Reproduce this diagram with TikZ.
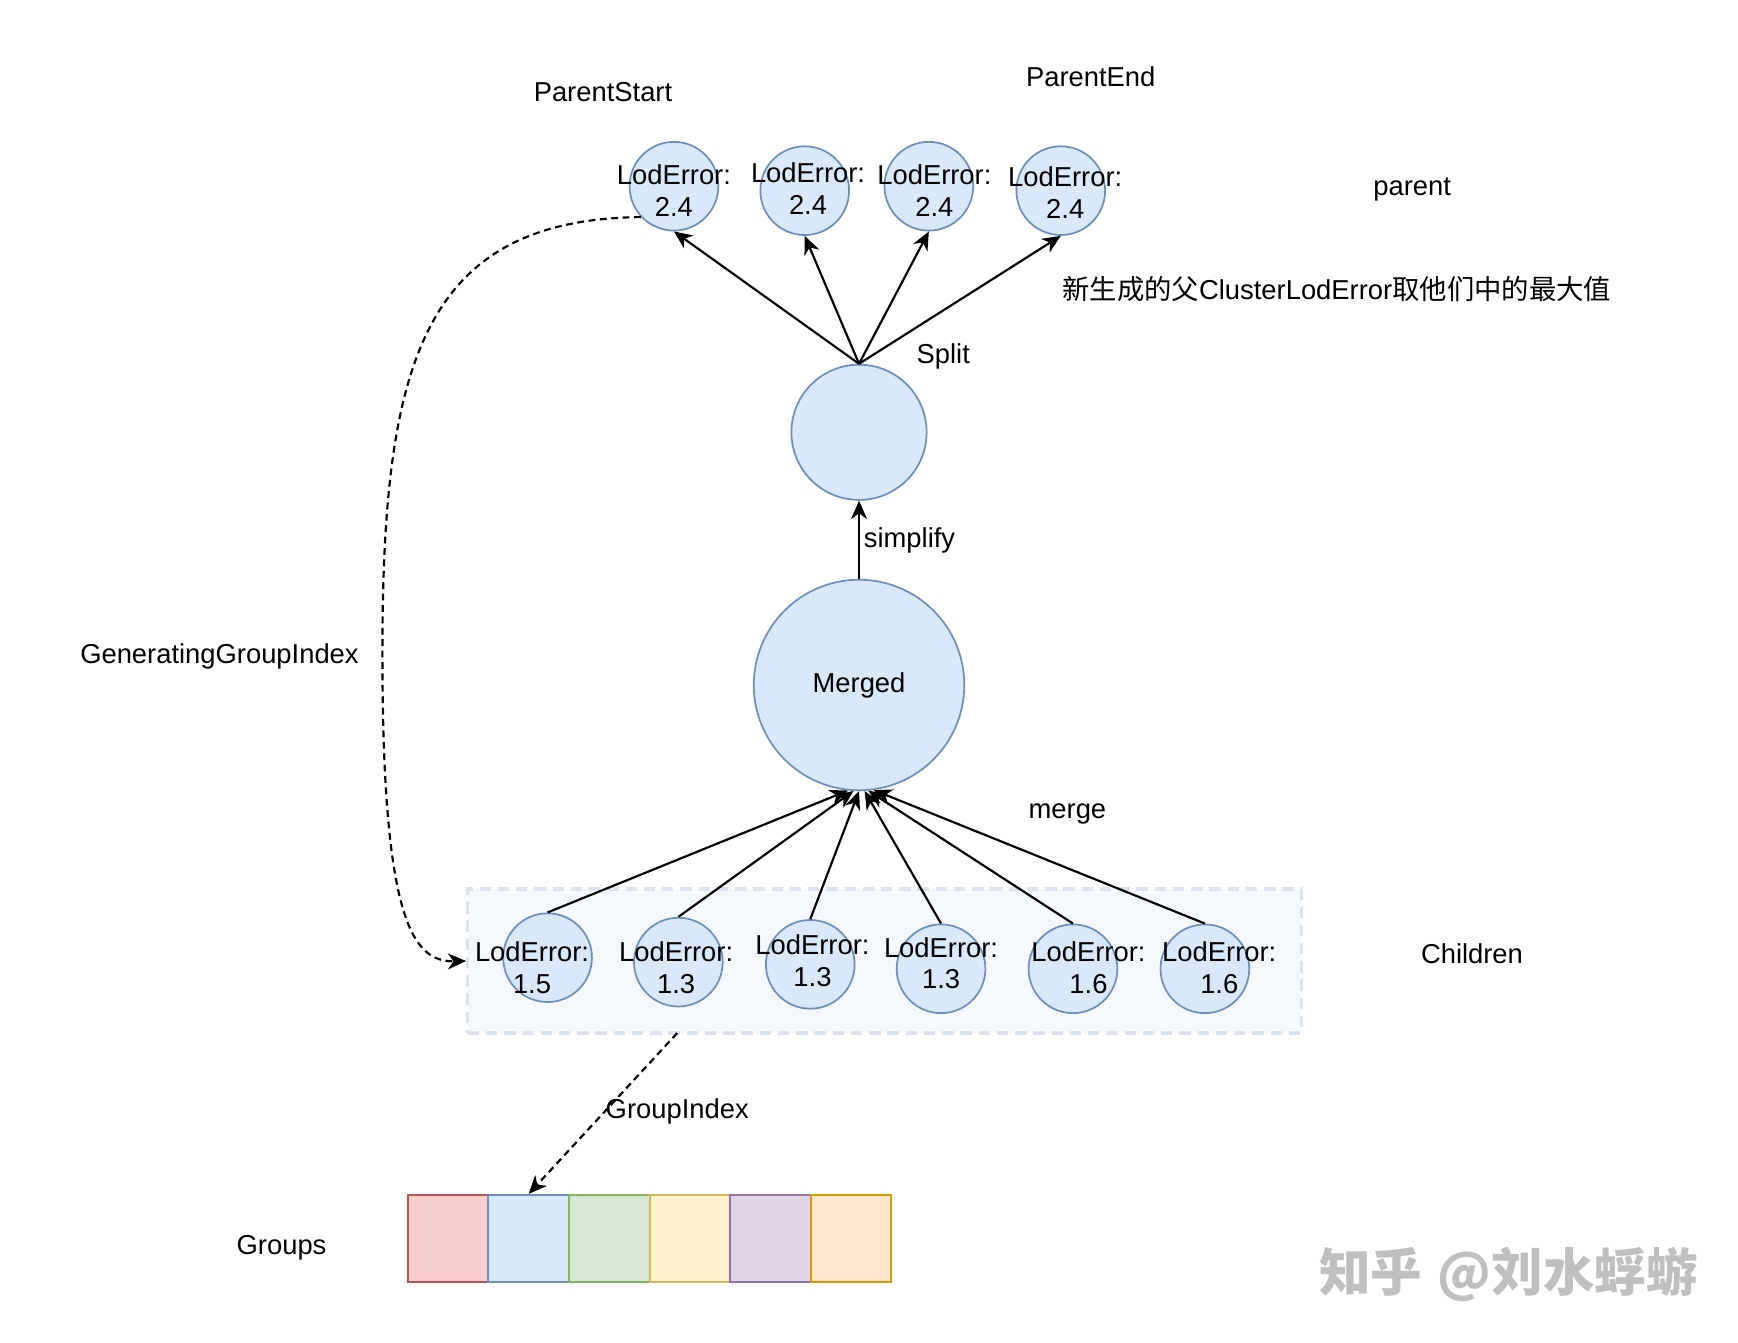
\documentclass[tikz,border=0pt]{standalone}
\usepackage{fontspec}
\setmainfont{Liberation Sans}
\newfontfamily\cjk{Noto Sans CJK SC}
\usetikzlibrary{arrows.meta}
\definecolor{nodefill}{HTML}{DAE8FC}
\definecolor{nodeline}{HTML}{6C8EBF}
\definecolor{boxfill}{HTML}{F5F8FD}
\definecolor{boxline}{HTML}{DCE3EE}
\definecolor{fillred}{HTML}{F8CECC}
\definecolor{linered}{HTML}{B85450}
\definecolor{fillblue}{HTML}{DAE8FC}
\definecolor{lineblue}{HTML}{6C8EBF}
\definecolor{fillgreen}{HTML}{D5E8D4}
\definecolor{linegreen}{HTML}{82B366}
\definecolor{fillyellow}{HTML}{FFF2CC}
\definecolor{lineyellow}{HTML}{D6B656}
\definecolor{fillpurple}{HTML}{E1D5E7}
\definecolor{linepurple}{HTML}{9673A6}
\definecolor{fillorange}{HTML}{FFE6CC}
\definecolor{lineorange}{HTML}{D79B00}
\begin{document}
\begin{tikzpicture}[x=0.486pt,y=-0.486pt,
  txt/.style={font=\fontsize{12}{14}\selectfont,align=center,inner sep=0pt},
  ball/.style={circle,draw=nodeline,fill=nodefill,line width=0.75pt,inner sep=0pt,minimum size=#1},
  ball/.default=38.9pt,
  edge/.style={-{Stealth[length=8pt,width=7pt,inset=2.5pt]},line width=0.95pt},
  dashedge/.style={edge,dash pattern=on 3pt off 2pt},
  groupbox/.style={draw=boxline,fill=boxfill,line width=1.4pt,dash pattern=on 5pt off 3pt,minimum width=365.5pt,minimum height=63.2pt,inner sep=0pt},
  cell/.style={line width=0.9pt,minimum width=35.3pt,minimum height=38.4pt,inner sep=0pt}]
\useasboundingbox (0,0) rectangle (1568,1211);
\node[groupbox] (box) at (798,867) {};
\node[ball] (p1) at (608,168) {};
\node[ball] (p2) at (726,172) {};
\node[ball] (p3) at (838,168) {};
\node[ball] (p4) at (957,172) {};
\node[txt] (pt1) at (608,172) {LodError:\\2.4};
\node[txt] (pt2) at (729,170) {LodError:\\2.4};
\node[txt] (pt3) at (843,172) {LodError:\\2.4};
\node[txt] (pt4) at (961,174) {LodError:\\2.4};
\node[ball=59.3pt] (split) at (775,390) {};
\node[ball=92.3pt] (merged) at (775,618) {};
\node[txt] (mt) at (775,618) {Merged};
\node[ball] (c1) at (494,864) {};
\node[ball] (c2) at (612,868) {};
\node[ball] (c3) at (731,870) {};
\node[ball] (c4) at (849,874) {};
\node[ball] (c5) at (968,874) {};
\node[ball] (c6) at (1087,874) {};
\node[txt] (ct1) at (480,873) {LodError:\\1.5};
\node[txt] (ct2) at (610,873) {LodError:\\1.3};
\node[txt] (ct3) at (733,867) {LodError:\\1.3};
\node[txt] (ct4) at (849,869) {LodError:\\1.3};
\node[txt] (ct5) at (982,873) {LodError:\\1.6};
\node[txt] (ct6) at (1100,873) {LodError:\\1.6};
\foreach \i/\c in {1/red,2/blue,3/green,4/yellow,5/purple,6/orange}
  \node[cell,fill=fill\c,draw=line\c] (g\i) at ({368+72.67*(\i-0.5)},1117.5) {};
\foreach \i in {1,...,4}
  \draw[edge] (split.north) -- (p\i.south);
\draw[edge] (merged.north) -- (split.south);
\foreach \i/\a in {1/264,2/267,3/270,4/273,5/275,6/278}
  \draw[edge] (c\i.north) -- (merged.\a);
\draw[dashedge] (p1.223) .. controls (380,198) and (345,330) .. (345,590)
  .. controls (345,830) and (372,868) .. (box.west);
\coordinate (gstart) at (611,932);
\draw[dashedge] (gstart) -- (g2.north);
\node[txt] (lstart) at (544,83) {ParentStart};
\node[txt] (lend) at (984,69) {ParentEnd};
\node[txt] (lparent) at (1274,171) {parent};
\node[txt] (lmax) at (1206,261) {{\cjk 新生成的父}ClusterLodError{\cjk 取他们中的最大值}};
\node[txt] (lsplit) at (851,322) {Split};
\node[txt,anchor=west] (lsimplify) at (779,488) {simplify};
\node[txt] (lgen) at (198,592) {GeneratingGroupIndex};
\node[txt] (lmerge) at (963,734) {merge};
\node[txt] (lchildren) at (1328,860) {Children};
\node[txt] (lgroupindex) at (611,1003) {GroupIndex};
\node[txt] (lgroups) at (254,1126) {Groups};
\node[font=\cjk\bfseries\fontsize{22.6}{26}\selectfont,text=black!25,inner sep=0pt] (mark) at (1361,1150) {知乎\hspace{0.3em}@刘水蜉蝣};
\end{tikzpicture}
\end{document}
